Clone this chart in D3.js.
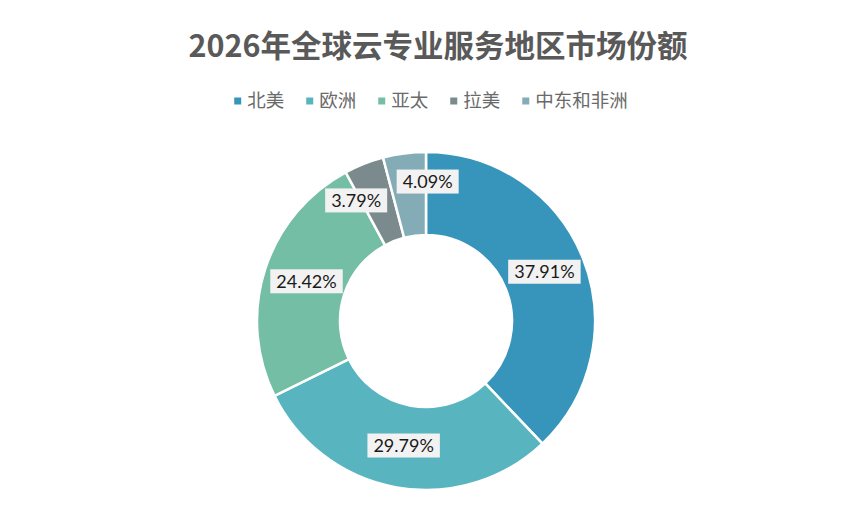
<!DOCTYPE html>
<html>
<head>
<meta charset="utf-8">
<script src="https://cdn.jsdelivr.net/npm/d3@7"></script>
<style>
  html, body { margin: 0; padding: 0; background: #fff; }
  svg { display: block; }
</style>
</head>
<body>
<svg id="chart" width="859" height="505"></svg>
<script>
const title = "2026年全球云专业服务地区市场份额";
const categories = ["北美", "欧洲", "亚太", "拉美", "中东和非洲"];
const values = [37.91, 29.79, 24.42, 3.79, 4.09];
const colors = ["#3795bc", "#58b5bf", "#75bea6", "#7b8b8d", "#84acb6"];
// label nudges (layout only) for the two small slices, as Excel shifts them
const labelNudge = [[0, -2], [0, -1], [2, -1], [-23, -2], [18, -13]];

const W = 859, H = 505;
const cx = 426, cy = 321, rOuter = 169, rInner = 86;

const svg = d3.select("#chart");

// Title
svg.append("text")
  .attr("x", 438).attr("y", 57)
  .attr("text-anchor", "middle")
  .attr("font-family", "'Noto Sans CJK SC', 'Noto Sans', sans-serif")
  .attr("font-weight", "bold")
  .attr("font-size", 30.5)
  .attr("fill", "#595959")
  .text(title);

// Legend
const legend = svg.append("g");
const legFont = 18.5;
let xPos = 0;
const items = [];
categories.forEach((c, i) => {
  const g = legend.append("g");
  g.append("rect").attr("x", 0).attr("y", -3.5).attr("width", 7).attr("height", 7).attr("fill", colors[i]);
  const t = g.append("text")
    .attr("x", 13).attr("y", 0)
    .attr("dy", "0.35em")
    .attr("font-family", "'Noto Sans CJK SC', sans-serif")
    .attr("font-size", legFont)
    .attr("fill", "#6a6a6a")
    .text(c);
  const w = 13 + t.node().getComputedTextLength();
  items.push({ g, x: xPos });
  xPos += w + 22;
});
const totalW = xPos - 22;
const legStart = 431 - totalW / 2;
items.forEach(it => it.g.attr("transform", `translate(${legStart + it.x},101)`));

// Donut
const pie = d3.pie().sort(null).value(d => d).startAngle(0).endAngle(2 * Math.PI);
const arcs = pie(values);
const arc = d3.arc().innerRadius(rInner).outerRadius(rOuter);
const labelArc = d3.arc().innerRadius((rInner + rOuter) / 2).outerRadius((rInner + rOuter) / 2);

const g = svg.append("g").attr("transform", `translate(${cx},${cy})`);
g.selectAll("path.slice")
  .data(arcs)
  .join("path")
  .attr("class", "slice")
  .attr("d", arc)
  .attr("fill", (d, i) => colors[i])
  .attr("stroke", "#fff")
  .attr("stroke-width", 2.5)
  .attr("stroke-linejoin", "miter");

// Labels
const lg = g.selectAll("g.lab")
  .data(arcs)
  .join("g")
  .attr("class", "lab")
  .attr("transform", (d, i) => {
    const [x, y] = labelArc.centroid(d);
    return `translate(${x + labelNudge[i][0]},${y + labelNudge[i][1]})`;
  });
lg.each(function(d) {
  const sel = d3.select(this);
  const t = sel.append("text")
    .attr("text-anchor", "middle")
    .attr("dy", "0.36em")
    .attr("font-family", "Lato, 'Open Sans', sans-serif")
    .attr("font-size", 18)
    .attr("fill", "#1a1a1a")
    .text(d.data.toFixed(2) + "%");
  const w = t.node().getComputedTextLength();
  sel.insert("rect", "text")
    .attr("x", -w / 2 - 6).attr("y", -12)
    .attr("width", w + 12).attr("height", 24)
    .attr("fill", "#f2f2f2");
});
</script>
</body>
</html>
